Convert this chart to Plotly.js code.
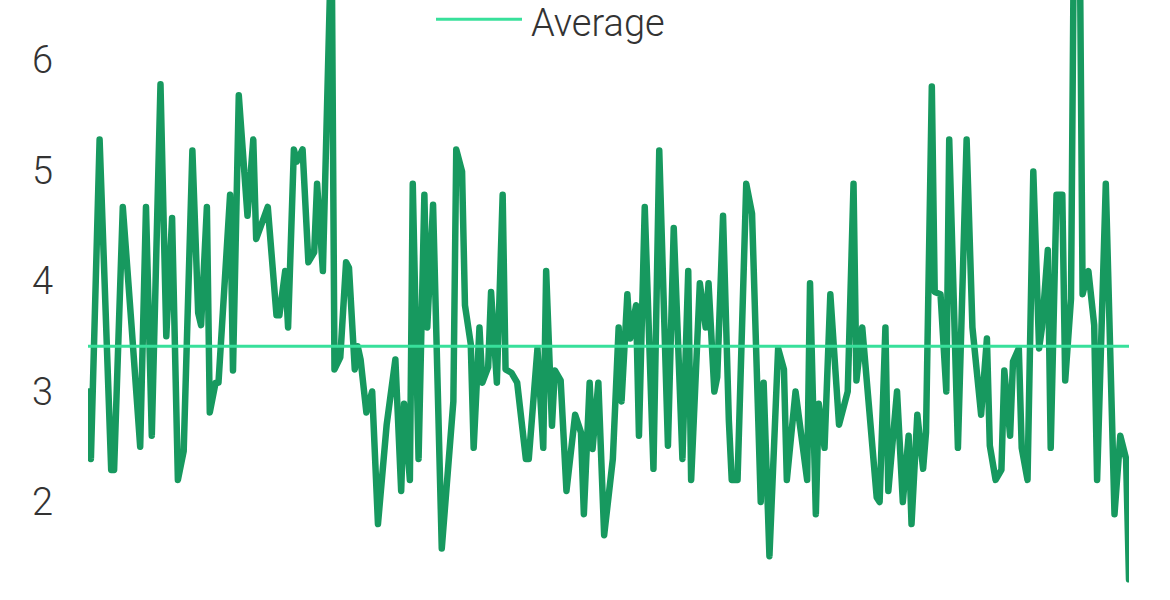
<!DOCTYPE html>
<html>
<head>
<meta charset="utf-8">
<script src="https://cdn.plot.ly/plotly-3.0.1.min.js"></script>
<style>
  html, body { margin: 0; padding: 0; background: #fff; }
  #chart { width: 1170px; height: 600px; }
  /* rounded joins like the original renderer */
  #chart .js-line { stroke-linejoin: round !important; stroke-linecap: round !important; }
</style>
</head>
<body>
<div id="chart"></div>
<script>
// Daily readings (day index) with the running average drawn as a flat line.

const days = [
  0, 1, 4, 8, 9, 12, 15, 17, 18, 20, 22, 25, 27, 29, 31, 33, 36, 38, 39, 41,
  42, 44, 45, 49, 50, 52, 55, 57, 58, 62, 65, 66, 68, 69, 71, 72, 74, 76, 78, 79,
  81, 84, 85, 87, 89, 90, 92, 93, 94, 96, 98, 100, 103, 106, 108, 109, 111, 112, 114, 116,
  117, 119, 122, 126, 127, 129, 130, 132, 133, 135, 136, 138, 139, 141, 143, 144, 146, 148, 150, 151,
  152, 155, 157, 158, 160, 161, 163, 165, 168, 170, 171, 173, 174, 176, 178, 181, 183, 184, 186, 187,
  189, 190, 192, 195, 197, 200, 202, 205, 207, 208, 211, 213, 214, 216, 217, 219, 221, 222, 224, 227,
  229, 232, 233, 235, 238, 240, 241, 244, 248, 249, 251, 252, 254, 256, 259, 262, 264, 265, 267, 272,
  273, 275, 276, 279, 281, 283, 284, 286, 288, 289, 291, 292, 294, 296, 297, 300, 303, 305, 308, 310,
  311, 313, 315, 316, 318, 319, 321, 322, 324, 326, 328, 329, 331, 332, 334, 336, 337, 339, 340, 341,
  342, 343, 345, 347, 348, 351, 354, 356, 358, 359
];

const values = [
  3.0, 2.39, 5.28, 2.29, 2.29, 4.67, 3.6, 2.8, 2.5, 4.67, 2.6, 5.78, 3.5, 4.57, 2.2, 2.46, 5.18, 3.71, 3.6, 4.67,
  2.81, 3.08, 3.08, 4.78, 3.19, 5.68, 4.59, 5.28, 4.38, 4.67, 3.69, 3.69, 4.09, 3.58, 5.19, 5.08, 5.19, 4.17, 4.26, 4.88,
  4.09, 7.2, 3.2, 3.31, 4.17, 4.12, 3.2, 3.41, 3.29, 2.81, 3.0, 1.8, 2.7, 3.29, 2.1, 2.89, 2.2, 4.88, 2.39, 4.78,
  3.58, 4.69, 1.58, 2.91, 5.19, 4.99, 3.78, 3.43, 2.49, 3.58, 3.08, 3.22, 3.9, 3.08, 4.78, 3.2, 3.17, 3.08, 2.63, 2.39,
  2.39, 3.39, 2.49, 4.09, 2.69, 3.19, 3.1, 2.1, 2.79, 2.63, 1.89, 3.08, 2.48, 3.08, 1.7, 2.39, 3.58, 2.91, 3.88, 3.48,
  3.78, 2.6, 4.67, 2.3, 5.18, 2.51, 4.48, 2.39, 4.09, 2.2, 3.98, 3.58, 3.98, 3.0, 3.13, 4.59, 2.74, 2.2, 2.2, 4.88,
  4.61, 2.0, 3.08, 1.51, 3.39, 3.2, 2.2, 3.0, 2.2, 3.98, 1.89, 2.89, 2.49, 3.88, 2.7, 3.0, 4.88, 3.1, 3.58, 2.04,
  2.0, 3.58, 2.1, 3.0, 2.0, 2.6, 1.8, 2.79, 2.3, 2.63, 5.76, 3.9, 3.88, 3.0, 5.28, 2.49, 5.28, 3.58, 2.79, 3.48,
  2.51, 2.2, 2.29, 3.19, 2.6, 3.27, 3.39, 2.49, 2.2, 4.99, 3.39, 3.58, 4.28, 2.49, 4.78, 4.78, 3.1, 3.84, 7.2, 6.7,
  7.2, 3.88, 4.09, 3.6, 2.2, 4.88, 1.89, 2.6, 2.39, 1.3
];

const averageValue = 3.41;
const yTicks = [2, 3, 4, 5, 6];

const MAIN = "#17995f";
const AVG = "#38e09b";
const TEXT = "#333333";
const FONT = "Roboto, 'Noto Sans', sans-serif";

const firstDay = days[0];
const lastDay = days[days.length - 1];

const traces = [
  {
    type: "scatter", mode: "lines", name: "Value",
    x: days, y: values,
    line: { color: MAIN, width: 6.5, shape: "linear" },
    showlegend: false, hoverinfo: "x+y"
  },
  {
    type: "scatter", mode: "lines", name: "Average",
    x: [firstDay, lastDay], y: [averageValue, averageValue],
    line: { color: AVG, width: 3 },
    showlegend: false
  }
];

const layout = {
  width: 1170, height: 600,
  margin: { l: 88, r: 41, t: 0, b: 0, pad: 0 },
  paper_bgcolor: "#fff", plot_bgcolor: "#fff",
  font: { family: FONT, color: TEXT, size: 38, weight: 300 },
  showlegend: false,
  xaxis: {
    range: [firstDay, lastDay],
    showgrid: false, zeroline: false, showline: false,
    showticklabels: false, ticks: ""
  },
  yaxis: {
    range: [1.113, 6.543],
    tickvals: yTicks, ticktext: yTicks.map(String),
    showgrid: false, zeroline: false, showline: false, ticks: "",
    ticklabelstandoff: 34,
    tickfont: { family: FONT, size: 38, color: TEXT, weight: 300 }
  },
  // legend entry drawn by hand so the sample line can be as long as the original
  shapes: [
    { type: "line", xref: "paper", yref: "paper",
      x0: (436 - 88) / 1041, x1: (522 - 88) / 1041, y0: 0.968, y1: 0.968,
      line: { color: AVG, width: 3 } }
  ],
  annotations: [
    { xref: "paper", yref: "paper", x: (530 - 88) / 1041, y: 0.962,
      xanchor: "left", yanchor: "middle", showarrow: false, borderpad: 0,
      text: "Average", font: { family: FONT, size: 38, color: TEXT, weight: 300 } },
    { xref: "paper", yref: "y", x: (40 - 88) / 1041, y: 1.06,
      xanchor: "center", yanchor: "middle", showarrow: false, borderpad: 0,
      text: "1", font: { family: FONT, size: 38, color: TEXT, weight: 300 } }
  ]
};

Plotly.newPlot("chart", traces, layout, { staticPlot: true, displayModeBar: false });
</script>
</body>
</html>
